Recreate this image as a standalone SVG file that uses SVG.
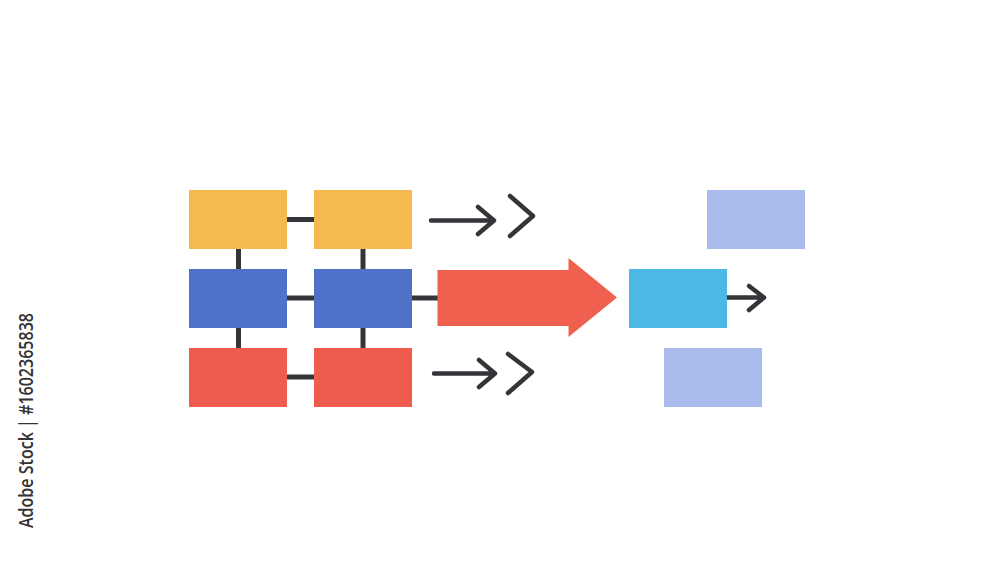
<svg xmlns="http://www.w3.org/2000/svg" width="1000" height="562" viewBox="0 0 1000 562">
<style>
.ln{stroke:#333538;stroke-width:5;fill:none;stroke-linecap:butt}
.ar{stroke:#333538;stroke-width:4.5;fill:none;stroke-linecap:round;stroke-linejoin:round}
.y{fill:#F6B94F}.b{fill:#4F72C8}.r{fill:#EF5C4E}.c{fill:#4BB8E6}.l{fill:#A8BBEC}
.wm{font-family:"Open Sans","Noto Sans","DejaVu Sans",sans-serif;font-size:20px;font-weight:600;fill:#333}
</style>
<rect width="1000" height="562" fill="#ffffff"/>
<g id="connectors">
<line class="ln" x1="287" y1="219.5" x2="314" y2="219.5"/>
<line class="ln" x1="287" y1="298" x2="314" y2="298"/>
<line class="ln" x1="287" y1="377" x2="314" y2="377"/>
<line class="ln" x1="238.5" y1="249" x2="238.5" y2="269"/>
<line class="ln" x1="238.5" y1="328" x2="238.5" y2="348"/>
<line class="ln" x1="363" y1="249" x2="363" y2="269"/>
<line class="ln" x1="363" y1="328" x2="363" y2="348"/>
<line class="ln" x1="412" y1="298" x2="438" y2="298"/>
<path class="ar" d="M431 220.5H494M478 207L494 220.5L478 234M510 196L533 216L510 236"/>
<path class="ar" d="M434 373.5H494M479 360L495 373.5L479 387M508 354L532 372L508 393"/>
<path class="ar" d="M727 297.5H764M749 286L764 297.5L749 310"/>
</g>
<g id="n-y1"><rect class="y" x="189" y="190" width="98" height="59"/></g>
<g id="n-y2"><rect class="y" x="314" y="190" width="98" height="59"/></g>
<g id="n-b1"><rect class="b" x="189" y="269" width="98" height="59"/></g>
<g id="n-b2"><rect class="b" x="314" y="269" width="98" height="59"/></g>
<g id="n-r1"><rect class="r" x="189" y="348" width="98" height="59"/></g>
<g id="n-r2"><rect class="r" x="314" y="348" width="98" height="59"/></g>
<g id="big-arrow"><polygon fill="#F0604F" points="437.5,270 568.5,270 568.5,258 617,297.5 568.5,337 568.5,326 437.5,326"/></g>
<g id="n-c"><rect class="c" x="629" y="269" width="98" height="59"/></g>
<g id="n-l1"><rect class="l" x="707" y="190" width="98" height="59"/></g>
<g id="n-l2"><rect class="l" x="664" y="348" width="98" height="59"/></g>
<text class="wm" transform="translate(33,528) rotate(-90)" textLength="215" lengthAdjust="spacingAndGlyphs">Adobe Stock | #1602365838</text>
</svg>
